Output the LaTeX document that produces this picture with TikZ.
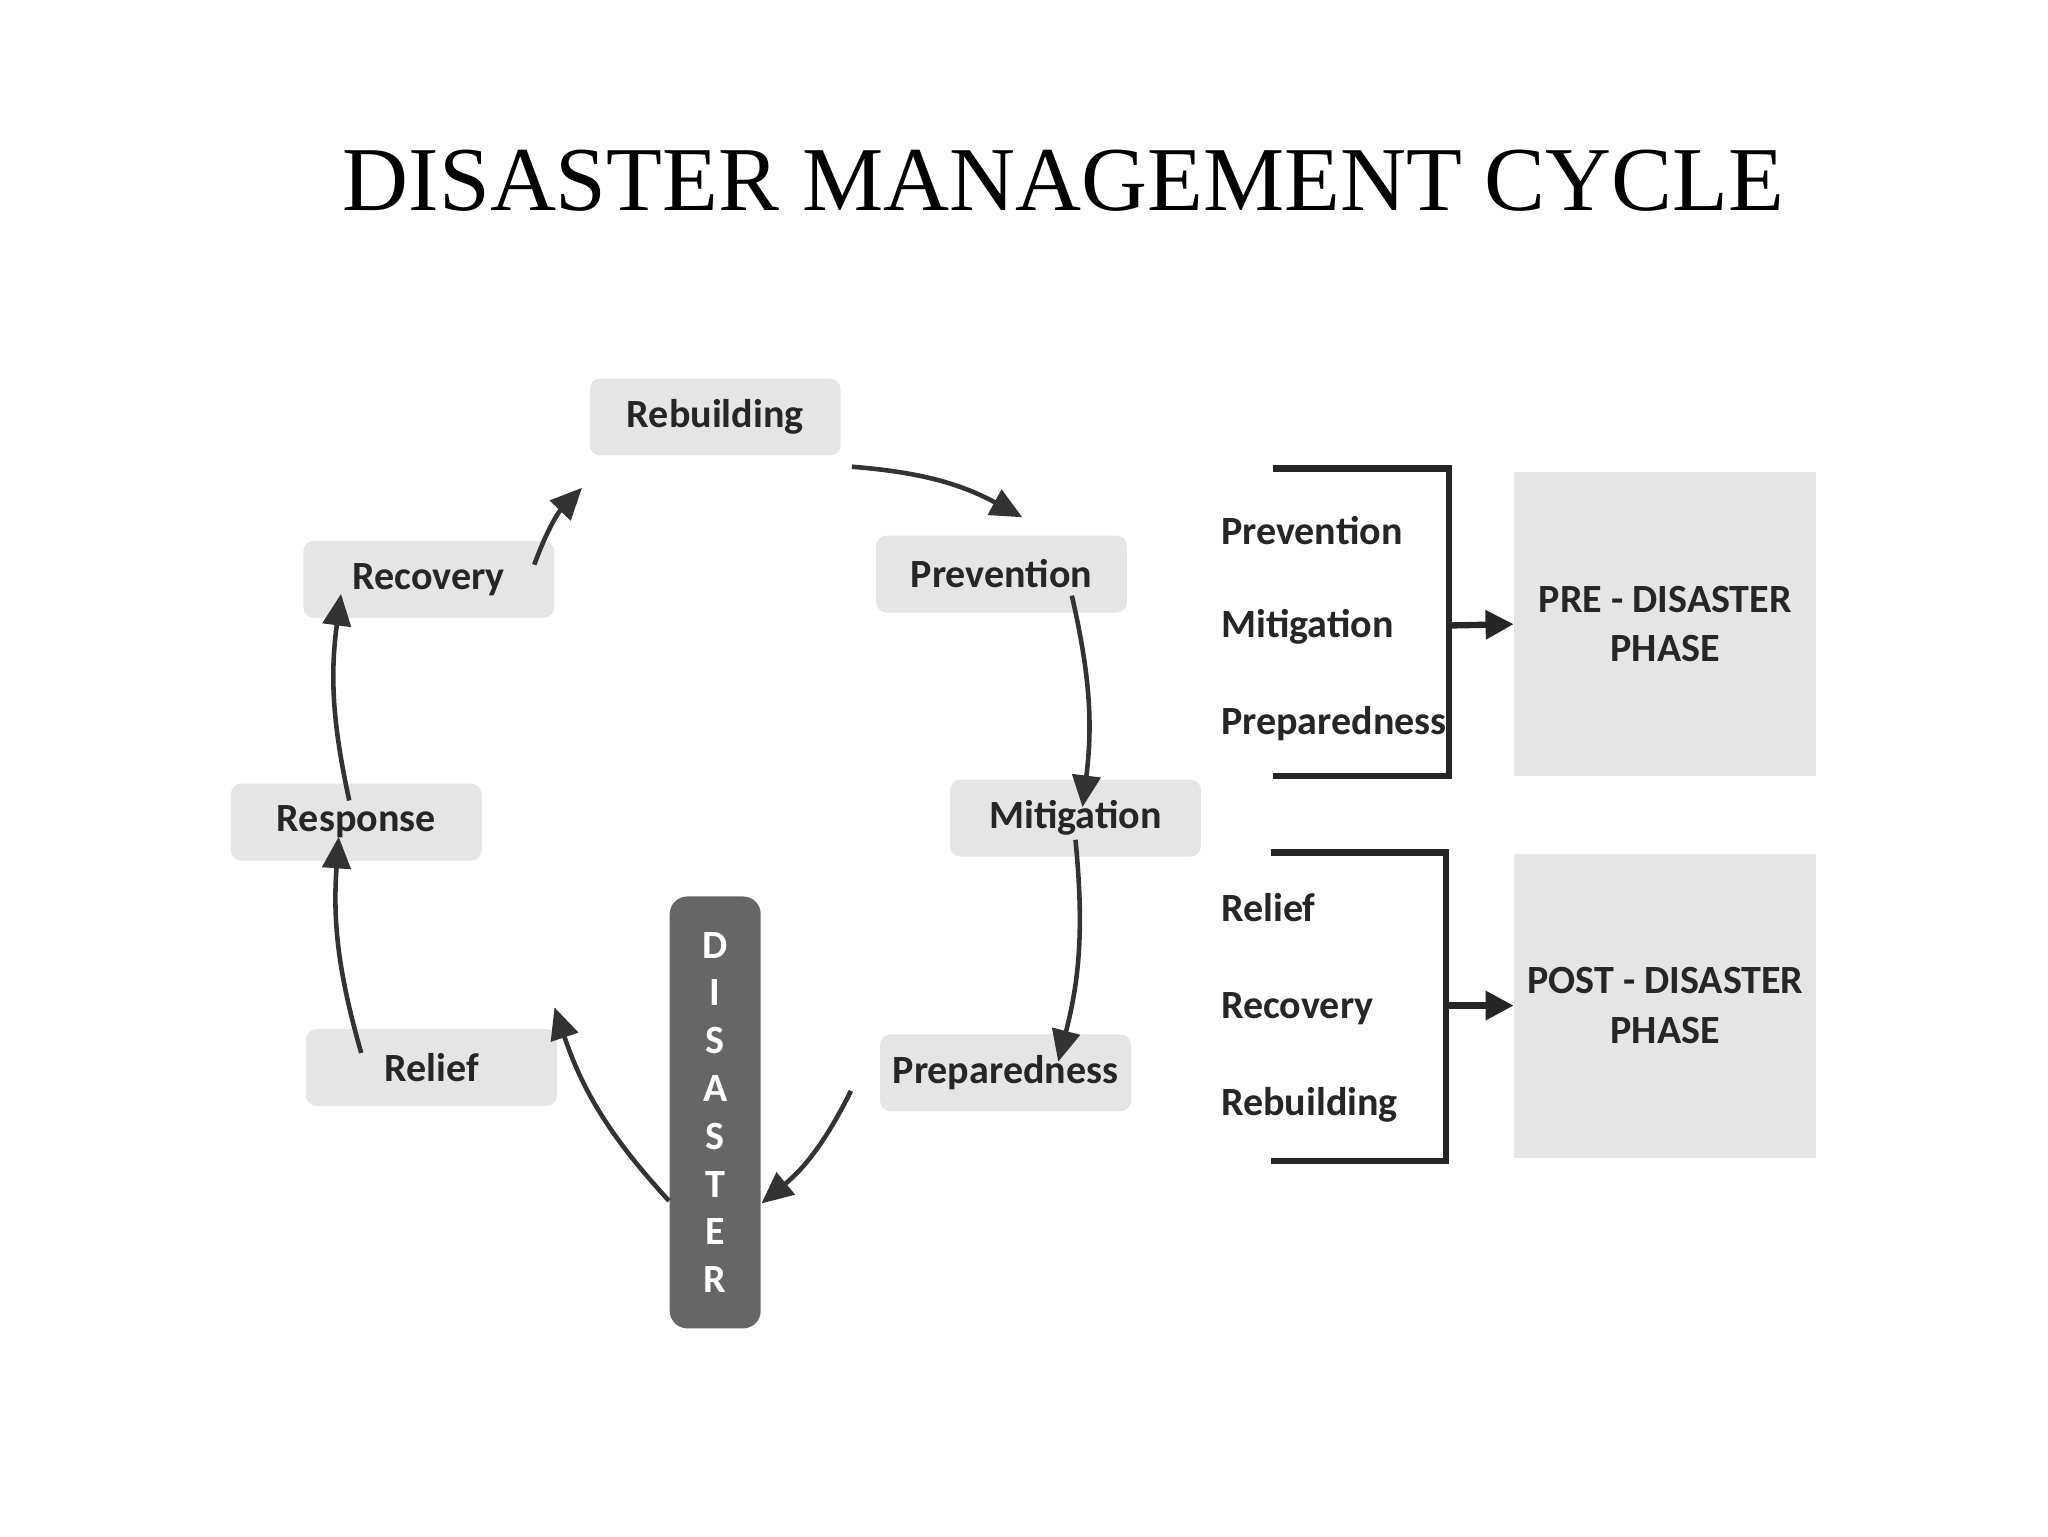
\documentclass[tikz,border=0pt]{standalone}
\usepackage{fontspec}
\setmainfont{Liberation Serif}
\newfontfamily\lblfont{Carlito}
\usetikzlibrary{arrows.meta}
\begin{document}
\begin{tikzpicture}[x=0.0132cm,y=-0.0132cm,
  box/.style={fill=black!10,rounded corners=3pt,minimum width=2.51cm,minimum height=0.77cm,font=\lblfont\bfseries\fontsize{11.4}{13}\selectfont,text=black!85},
  lbl/.style={anchor=west,font=\lblfont\bfseries\fontsize{11.4}{13}\selectfont,text=black!85},
  cyc/.style={line width=1.3pt,black!80,-{Triangle[length=9pt,width=8pt]}},
  br/.style={line width=1.8pt,black!85},
  phase/.style={fill=black!10,minimum width=3.02cm,minimum height=3.04cm,align=center,font=\lblfont\bfseries\fontsize{11.4}{14}\selectfont,text=black!85}]
\useasboundingbox (0,0) rectangle (1552,1164);
\node[font=\fontsize{26}{30}\selectfont] (title) at (806,137) {DISASTER MANAGEMENT CYCLE};
\node[box] (reb) at (542,316) {Rebuilding};
\node[box] (prev) at (759,435) {Prevention};
\node[box] (mit) at (815,620) {Mitigation};
\node[box] (prep) at (762,813) {Preparedness};
\node[box] (rel) at (327,809) {Relief};
\node[box] (resp) at (270,623) {Response};
\node[box] (rec) at (325,439) {Recovery};
\node[fill=black!60,rounded corners=5pt,minimum width=0.91cm,minimum height=4.32cm,text=white,align=center,font=\lblfont\bfseries\fontsize{11.4}{13.6}\selectfont] (dis) at (542,843) {D\\I\\S\\A\\S\\T\\E\\R};
\draw[cyc] ([xshift=3,yshift=-3]reb.south east) to[bend left=12] ([xshift=-30,yshift=5]prev.north east);
\draw[cyc] ([xshift=20,yshift=5]prev.south) to[bend left=10] ([xshift=2,yshift=-8]mit.north);
\draw[cyc] ([yshift=5]mit.south) to[bend left=10] ([xshift=15,yshift=-8]prep.north);
\draw[cyc] ([xshift=-44,yshift=6]prep.south) to[bend left=12] (dis.east |- 0,912);
\draw[cyc] (dis.west |- 0,910) to[bend left=12] ([xshift=35,yshift=6]rel.north);
\draw[cyc] ([xshift=-20,yshift=-7]rel.north) to[bend left=10] ([xshift=-5,yshift=7]resp.south);
\draw[cyc] ([xshift=-2,yshift=-5]resp.north) to[bend left=10] ([xshift=-25,yshift=7]rec.south);
\draw[cyc] ([xshift=30,yshift=-7]rec.north) to[bend left=12] ([xshift=-2,yshift=-9]reb.south west);
% top bracket
\node[lbl] (l1) at (916,402) {Prevention};
\node[lbl] (l2) at (916,475) {Mitigation};
\node[lbl] (l3) at (916,548) {Preparedness};
\coordinate (a1) at (965,355); \coordinate (a2) at (1098,355);
\coordinate (a3) at (1098,588); \coordinate (a4) at (965,588);
\coordinate (am) at (1098,474);
\draw[br] (a1) -- (a2) -- (a3) -- (a4);
\node[phase] (pre) at (1262,473) {PRE - DISASTER\\PHASE};
\draw[br,-{Triangle[length=8pt,width=8pt]}] (am) -- (pre.west);
% bottom bracket
\node[lbl] (m1) at (916,688) {Relief};
\node[lbl] (m2) at (916,764) {Recovery};
\node[lbl] (m3) at (916,837) {Rebuilding};
\coordinate (b1) at (963,646); \coordinate (b2) at (1096,646);
\coordinate (b3) at (1096,880); \coordinate (b4) at (963,880);
\coordinate (bm) at (1096,762);
\draw[br] (b1) -- (b2) -- (b3) -- (b4);
\node[phase] (post) at (1262,762) {POST - DISASTER\\PHASE};
\draw[br,-{Triangle[length=8pt,width=8pt]}] (bm) -- (post.west);
\end{tikzpicture}
\end{document}
